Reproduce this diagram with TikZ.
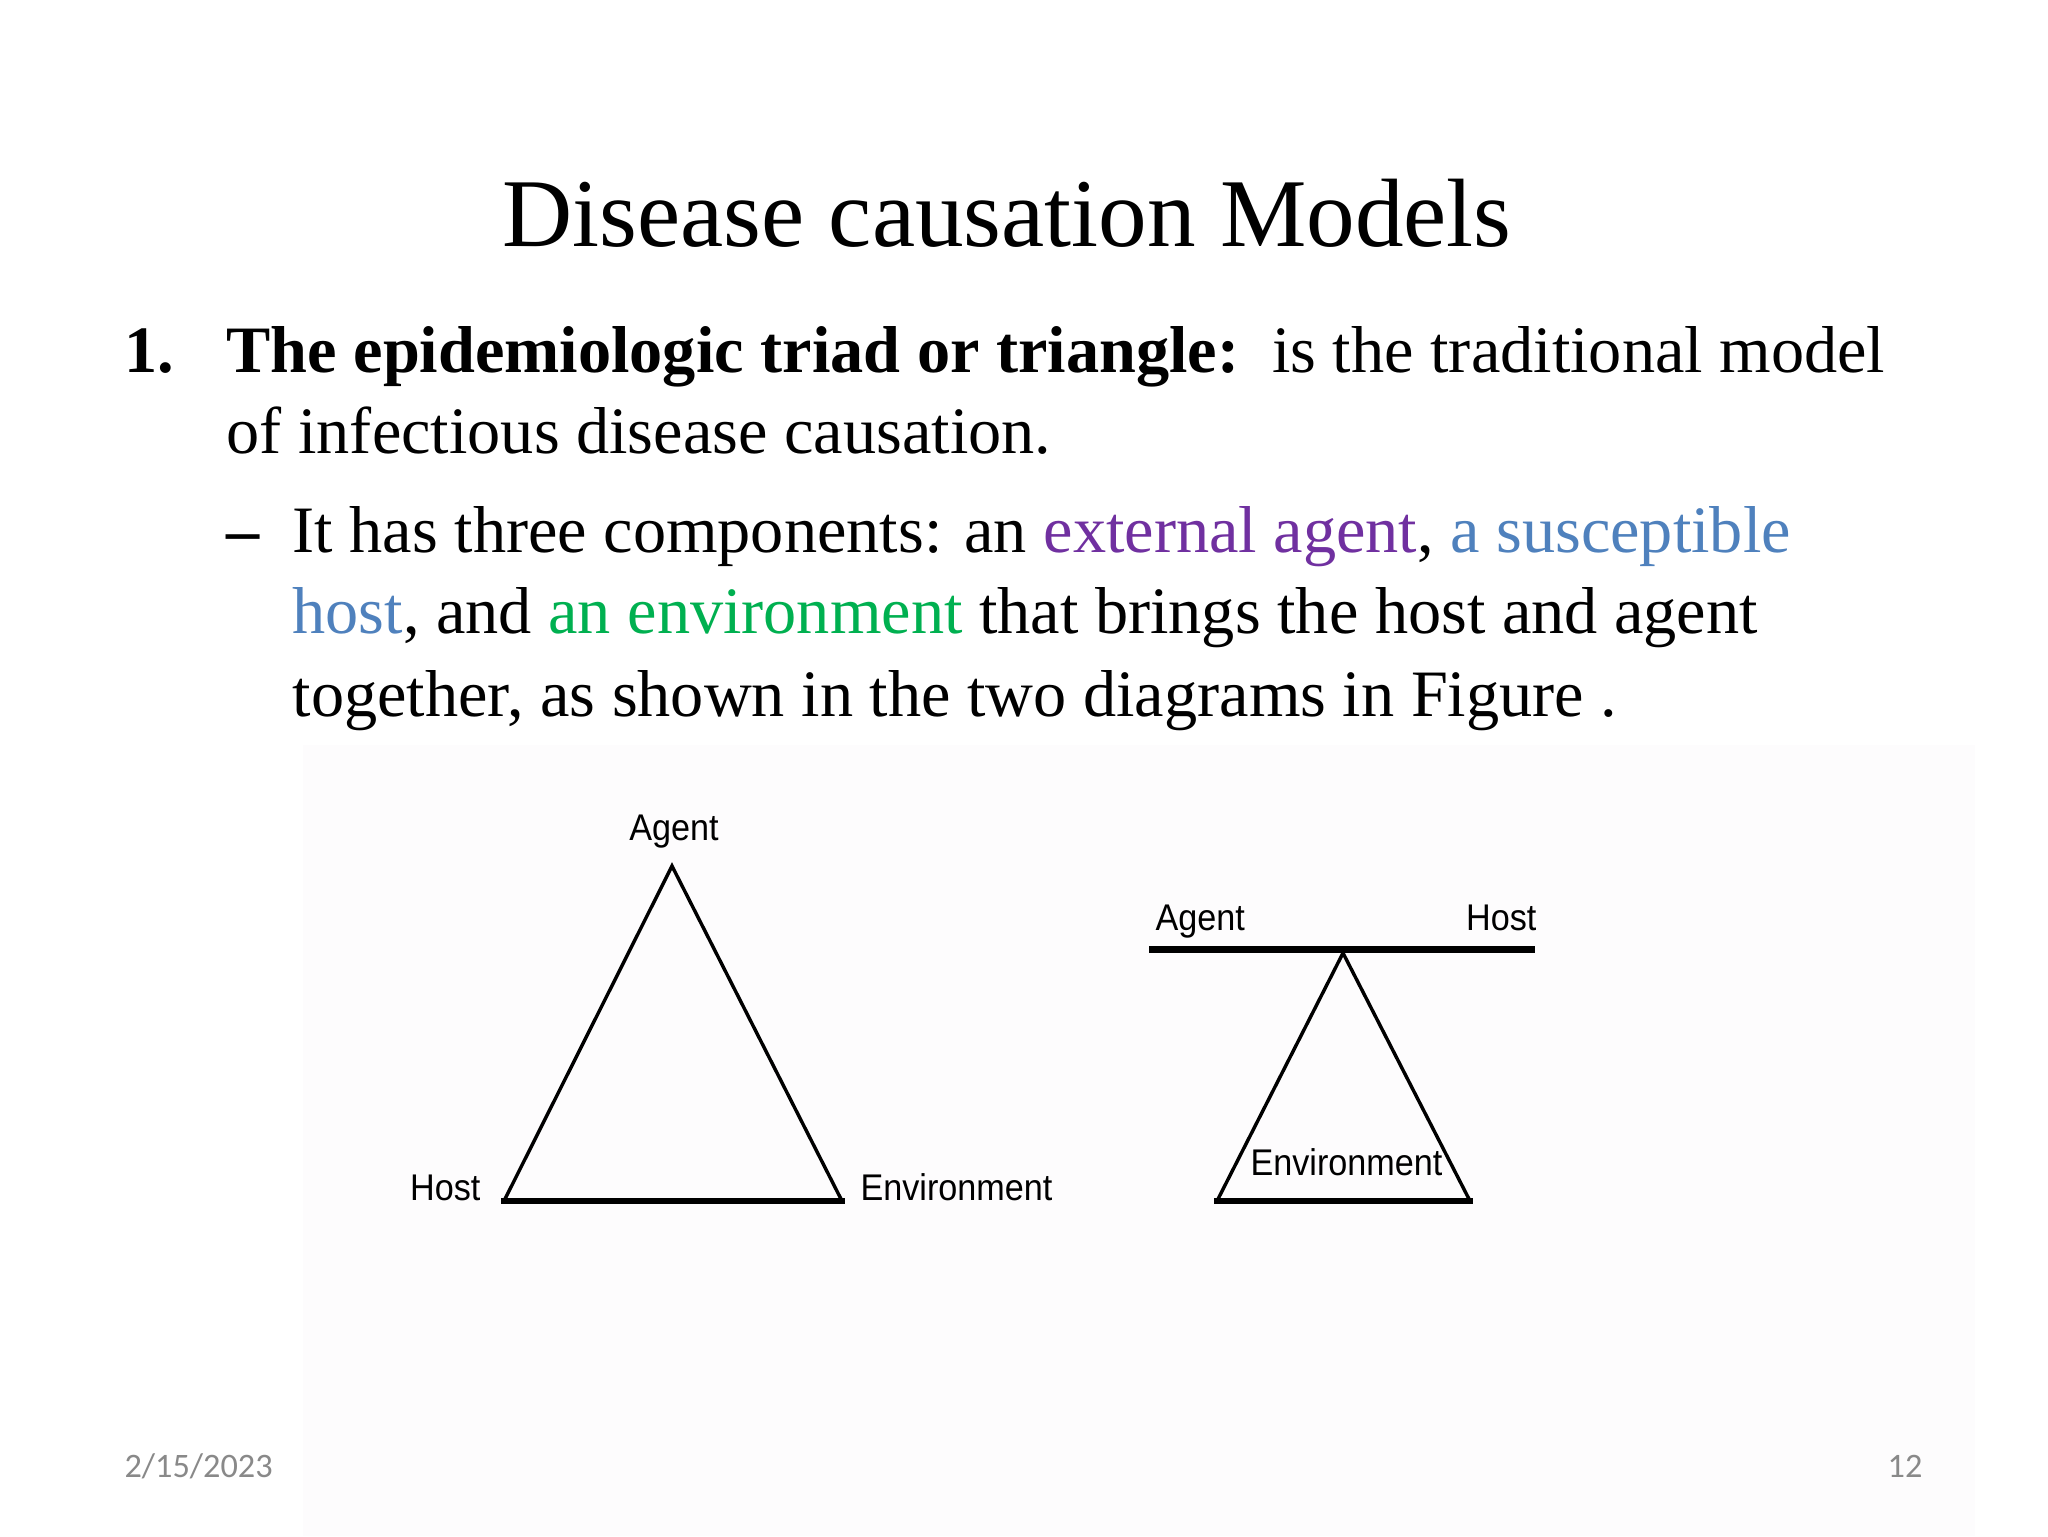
\documentclass[tikz,border=0pt]{standalone}
\usepackage{fontspec}
\setmainfont{Liberation Serif}
\newfontfamily\lsans{Liberation Sans}
\newfontfamily\carl{Carlito}
\definecolor{agentc}{HTML}{7030A0}
\definecolor{hostc}{HTML}{4F81BD}
\definecolor{envc}{HTML}{00B050}
\definecolor{footc}{HTML}{898989}
\definecolor{figbg}{HTML}{FDFCFD}
\newcommand{\dlab}[1]{\scalebox{0.92}[1]{#1}}
\begin{document}
\begin{tikzpicture}[x=0.35pt,y=-0.35pt,
  txt/.style={anchor=base west,inner sep=0pt,font=\fontsize{23.2}{28}\selectfont},
  lab/.style={inner sep=0pt,font=\lsans\fontsize{13}{15}\selectfont},
  side/.style={line width=1.2pt,line join=miter},
  base/.style={line width=1.8pt,line cap=rect},
  bar/.style={line width=2.45pt},
  foot/.style={anchor=base west,inner sep=0pt,text=footc,font=\carl\fontsize{12}{14}\selectfont}]
\useasboundingbox (0,0) rectangle (2048,1536);
\fill[white] (0,0) rectangle (2048,1536);
\fill[figbg] (303,745) rectangle (1975,1536);

% title
\node[anchor=base,inner sep=0pt,font=\fontsize{34}{40}\selectfont] (title) at (1007,246) {Disease causation Models};

% body
\node[txt,font=\bfseries\fontsize{23.2}{28}\selectfont] (num) at (124,372) {1.};
\node[txt] (l1) at (226,372) {\textbf{The epidemiologic triad or triangle:}\ \ is the traditional model};
\node[txt] (l2) at (226,453) {of infectious disease causation.};
\node[txt,font=\bfseries\fontsize{23.2}{28}\selectfont] (dash) at (226,552) {--};
\node[txt] (l3) at (292,552) {It has three components: an \textcolor{agentc}{external agent}, \textcolor{hostc}{a susceptible}};
\node[txt] (l4) at (292,633) {\textcolor{hostc}{host}, and \textcolor{envc}{an environment} that brings the host and agent};
\node[txt] (l5) at (292,716) {together, as shown in the two diagrams in Figure .};

% diagram 1: triangle
\coordinate (A1) at (672,866);
\coordinate (H1) at (504,1201);
\coordinate (E1) at (842,1201);
\draw[side] (H1) -- (A1) -- (E1);
\draw[base] (H1) -- (E1);
\node[lab,anchor=base] (agent1) at (674,840) {\dlab{Agent}};
\node[lab,anchor=base east] (host1) at (481,1200) {\dlab{Host}};
\node[lab,anchor=base west] (env1) at (860,1200) {\dlab{Environment}};

% diagram 2: balance
\coordinate (BL) at (1149,949);
\coordinate (BR) at (1535,949);
\coordinate (A2) at (1343,953);
\coordinate (L2) at (1217,1201);
\coordinate (R2) at (1470,1201);
\draw[bar] (BL) -- (BR);
\draw[side] (L2) -- (A2) -- (R2);
\draw[base] (L2) -- (R2);
\node[lab,anchor=base west] (agent2) at (1155,930) {\dlab{Agent}};
\node[lab,anchor=base east] (host2) at (1537,930) {\dlab{Host}};
\node[lab,anchor=base west] (env2) at (1250,1175) {\dlab{Environment}};

% footer
\node[foot] (date) at (124,1477) {2/15/2023};
\node[foot,anchor=base east] (page) at (1923,1477) {12};
\end{tikzpicture}
\end{document}
